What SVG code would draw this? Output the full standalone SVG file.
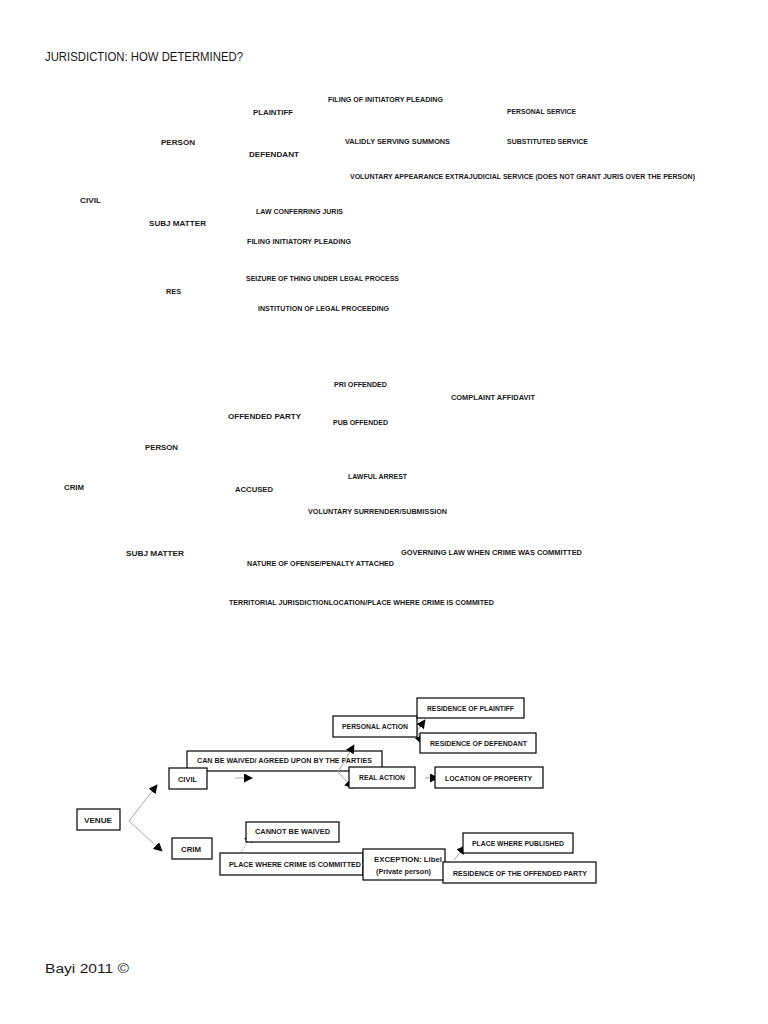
<svg xmlns="http://www.w3.org/2000/svg" width="768" height="1024" viewBox="0 0 768 1024">
<style>
.t{font-family:"Liberation Sans",Arial,sans-serif;font-weight:bold;font-size:7px;fill:#1a1a1a}
.m{font-size:7.8px}
.s{font-size:6.6px}
.h{font-family:"Liberation Sans",Arial,sans-serif;font-size:12.5px;fill:#1a1a1a}
.b{fill:#fff;stroke:#000;stroke-width:1.2}
.bt{font-family:"Liberation Sans",Arial,sans-serif;font-weight:bold;font-size:6.8px;fill:#1a1a1a}
.c{fill:none;stroke:#a6a6a6;stroke-width:1;marker-end:url(#ah)}
.d{stroke-dasharray:1.5 1.2}
</style>
<defs>
<marker id="ah" markerUnits="userSpaceOnUse" markerWidth="9" markerHeight="9" viewBox="0 0 10 10" refX="9" refY="5" orient="auto">
<path d="M0,0 L10,5 L0,10 Z" fill="#000"/>
</marker>
</defs>
<rect width="768" height="1024" fill="#fff"/>

<text class="h" x="45" y="61" textLength="198" lengthAdjust="spacingAndGlyphs">JURISDICTION: HOW DETERMINED?</text>

<g id="civil-tree">
<text class="t s" x="328" y="102" textLength="115" lengthAdjust="spacingAndGlyphs">FILING OF INITIATORY PLEADING</text>
<text class="t m" x="253" y="115" textLength="40" lengthAdjust="spacingAndGlyphs">PLAINTIFF</text>
<text class="t s" x="507" y="114" textLength="69" lengthAdjust="spacingAndGlyphs">PERSONAL SERVICE</text>
<text class="t m" x="161" y="145" textLength="34" lengthAdjust="spacingAndGlyphs">PERSON</text>
<text class="t s" x="345" y="144" textLength="105" lengthAdjust="spacingAndGlyphs">VALIDLY SERVING SUMMONS</text>
<text class="t s" x="507" y="144" textLength="81" lengthAdjust="spacingAndGlyphs">SUBSTITUTED SERVICE</text>
<text class="t m" x="249" y="157" textLength="50" lengthAdjust="spacingAndGlyphs">DEFENDANT</text>
<text class="t s" x="350" y="179" textLength="345" lengthAdjust="spacingAndGlyphs">VOLUNTARY APPEARANCE  EXTRAJUDICIAL SERVICE (DOES NOT GRANT JURIS OVER THE PERSON)</text>
<text class="t s" x="80" y="203" textLength="21" lengthAdjust="spacingAndGlyphs">CIVIL</text>
<text class="t s" x="256" y="214" textLength="87" lengthAdjust="spacingAndGlyphs">LAW CONFERRING JURIS</text>
<text class="t" x="149" y="226" textLength="57" lengthAdjust="spacingAndGlyphs">SUBJ MATTER</text>
<text class="t s" x="247" y="244" textLength="104" lengthAdjust="spacingAndGlyphs">FILING INITIATORY PLEADING</text>
<text class="t s" x="246" y="281" textLength="153" lengthAdjust="spacingAndGlyphs">SEIZURE OF THING UNDER LEGAL PROCESS</text>
<text class="t s" x="166" y="294" textLength="15" lengthAdjust="spacingAndGlyphs">RES</text>
<text class="t s" x="258" y="311" textLength="131" lengthAdjust="spacingAndGlyphs">INSTITUTION OF LEGAL PROCEEDING</text>
</g>

<g id="crim-tree">
<text class="t s" x="334" y="387" textLength="53" lengthAdjust="spacingAndGlyphs">PRI OFFENDED</text>
<text class="t s" x="451" y="400" textLength="84" lengthAdjust="spacingAndGlyphs">COMPLAINT AFFIDAVIT</text>
<text class="t m" x="228" y="419" textLength="73" lengthAdjust="spacingAndGlyphs">OFFENDED PARTY</text>
<text class="t s" x="333" y="425" textLength="55" lengthAdjust="spacingAndGlyphs">PUB OFFENDED</text>
<text class="t m" x="145" y="450" textLength="33" lengthAdjust="spacingAndGlyphs">PERSON</text>
<text class="t s" x="348" y="479" textLength="59" lengthAdjust="spacingAndGlyphs">LAWFUL ARREST</text>
<text class="t s" x="64" y="490" textLength="20" lengthAdjust="spacingAndGlyphs">CRIM</text>
<text class="t m" x="235" y="492" textLength="38" lengthAdjust="spacingAndGlyphs">ACCUSED</text>
<text class="t s" x="308" y="514" textLength="139" lengthAdjust="spacingAndGlyphs">VOLUNTARY SURRENDER/SUBMISSION</text>
<text class="t" x="126" y="556" textLength="58" lengthAdjust="spacingAndGlyphs">SUBJ MATTER</text>
<text class="t s" x="401" y="555" textLength="181" lengthAdjust="spacingAndGlyphs">GOVERNING LAW WHEN CRIME WAS COMMITTED</text>
<text class="t s" x="247" y="566" textLength="147" lengthAdjust="spacingAndGlyphs">NATURE OF OFENSE/PENALTY ATTACHED</text>
<text class="t s" x="229" y="605" textLength="265" lengthAdjust="spacingAndGlyphs">TERRITORIAL JURISDICTIONLOCATION/PLACE WHERE CRIME IS COMMITED</text>
</g>

<g id="n-canbewaived"><rect class="b" x="187" y="751" width="195" height="20"/><text class="bt" x="197" y="763" textLength="175" lengthAdjust="spacingAndGlyphs">CAN BE WAIVED/ AGREED UPON BY THE PARTIES</text></g>

<g id="connectors">
<path class="c" d="M129,821 L157,785"/>
<path class="c" d="M129,821 L162,851"/>
<path class="c" d="M235,778 L252,778"/>
<path class="c" d="M338,772 L354,745"/>
<path class="c" d="M338,772 L353,788"/>
<path class="c" d="M417,731 L425,720"/>
<path class="c" d="M417,731 L422,744"/>
<path class="c" d="M425,778 L438,778"/>
<path class="c d" d="M240,855 L252,834"/>
<path class="c d" d="M240,855 L250,874"/>
<path class="c" d="M352,869 L367,869"/>
<path class="c" d="M454,860 L465,846"/>
</g>

<g id="n-venue"><rect class="b" x="77" y="809" width="43" height="21"/><text class="bt" x="84" y="822.5" textLength="28" lengthAdjust="spacingAndGlyphs">VENUE</text></g>
<g id="n-civil"><rect class="b" x="169" y="768" width="38" height="21"/><text class="bt" x="178" y="781.5" textLength="19" lengthAdjust="spacingAndGlyphs">CIVIL</text></g>
<g id="n-crim"><rect class="b" x="172" y="838" width="40" height="21"/><text class="bt" x="181" y="851.5" textLength="20" lengthAdjust="spacingAndGlyphs">CRIM</text></g>
<g id="n-personal"><rect class="b" x="333" y="716" width="84" height="21"/><text class="bt" x="342" y="729" textLength="66" lengthAdjust="spacingAndGlyphs">PERSONAL ACTION</text></g>
<g id="n-resplaintiff"><rect class="b" x="417" y="698" width="107" height="20"/><text class="bt" x="427" y="710.5" textLength="87" lengthAdjust="spacingAndGlyphs">RESIDENCE OF PLAINTIFF</text></g>
<g id="n-resdefendant"><rect class="b" x="420" y="733" width="116" height="20"/><text class="bt" x="430" y="745.5" textLength="97" lengthAdjust="spacingAndGlyphs">RESIDENCE OF DEFENDANT</text></g>
<g id="n-real"><rect class="b" x="349" y="767" width="66" height="21"/><text class="bt" x="359" y="780" textLength="46" lengthAdjust="spacingAndGlyphs">REAL ACTION</text></g>
<g id="n-location"><rect class="b" x="435" y="767" width="108" height="21"/><text class="bt" x="445" y="780.5" textLength="87" lengthAdjust="spacingAndGlyphs">LOCATION OF PROPERTY</text></g>
<g id="n-cannot"><rect class="b" x="246" y="822" width="93" height="20"/><text class="bt" x="255" y="834" textLength="75" lengthAdjust="spacingAndGlyphs">CANNOT BE WAIVED</text></g>
<g id="n-placecrime"><rect class="b" x="220" y="853" width="143" height="22"/><text class="bt" x="229" y="866.5" textLength="132" lengthAdjust="spacingAndGlyphs">PLACE WHERE CRIME IS COMMITTED</text></g>
<g id="n-exception"><rect class="b" x="363" y="849" width="82" height="31"/><text class="bt" x="374" y="861.5" textLength="68" lengthAdjust="spacingAndGlyphs">EXCEPTION: Libel</text><text class="bt" x="376" y="873.5" textLength="55" lengthAdjust="spacingAndGlyphs">(Private person)</text></g>
<g id="n-published"><rect class="b" x="463" y="833" width="110" height="20"/><text class="bt" x="472" y="845.5" textLength="92" lengthAdjust="spacingAndGlyphs">PLACE WHERE PUBLISHED</text></g>
<g id="n-resoffended"><rect class="b" x="443" y="862" width="153" height="21"/><text class="bt" x="453" y="875.5" textLength="134" lengthAdjust="spacingAndGlyphs">RESIDENCE OF THE OFFENDED PARTY</text></g>

<text class="h" x="45" y="973" textLength="84" lengthAdjust="spacingAndGlyphs">Bayi 2011 ©</text>
</svg>
